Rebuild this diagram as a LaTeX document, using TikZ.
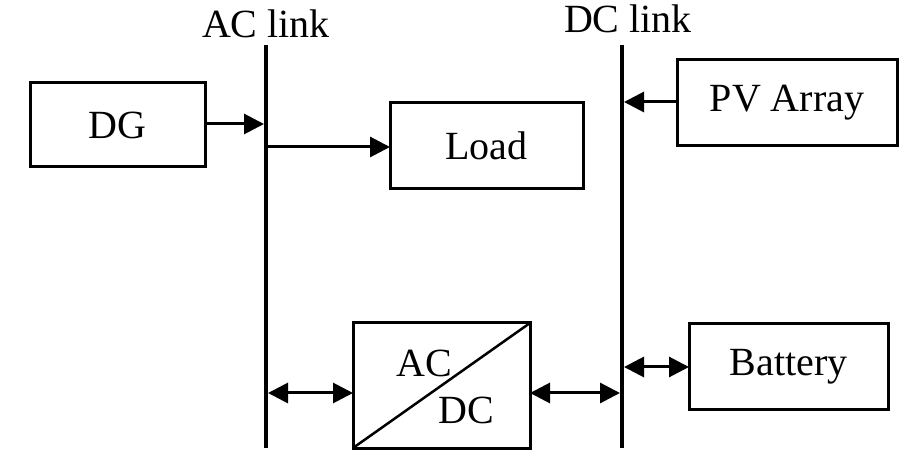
\documentclass[tikz,border=0pt]{standalone}
\usepackage{fontspec}
\setmainfont{Liberation Serif}
\usetikzlibrary{arrows.meta}
\begin{document}
\begin{tikzpicture}[x=1pt,y=-1pt,
  box/.style={draw,line width=3pt,inner sep=0},
  bus/.style={line width=4pt},
  arr/.style={line width=3pt,-{Triangle[length=20pt,width=20pt]}},
  darr/.style={line width=3pt,{Triangle[length=20pt,width=20pt]}-{Triangle[length=20pt,width=20pt]}},
  lbl/.style={font=\fontsize{40}{40}\selectfont}]
\useasboundingbox (0,0) rectangle (919,462);
\coordinate (ac1) at (266,45); \coordinate (ac2) at (266,448);
\coordinate (dc1) at (622,45); \coordinate (dc2) at (622,448);
\draw[bus] (ac1) -- (ac2);
\draw[bus] (dc1) -- (dc2);
\node[lbl] (aclbl) at (266,24) {AC link};
\node[lbl] (dclbl) at (628,19) {DC link};
\draw[box] (30,83) rectangle (205,167); \node[lbl] (dg) at (117.5,125) {DG};
\draw[box] (390,103) rectangle (583,189); \node[lbl] (load) at (486.5,146) {Load};
\draw[box] (677,60) rectangle (897,146); \node[lbl] (pv) at (787,103) {PV Array};
\draw[box] (689,324) rectangle (888,410); \node[lbl] (bat) at (788.5,367) {Battery};
\draw[box] (353,323) rectangle (530,448); \draw[line width=2.5pt] (353,448) -- (530,323);
\node[lbl] (acl) at (424,363) {AC}; \node[lbl] (dcl) at (466,410) {DC};
\draw[arr] (205,124) -- (264,124);
\draw[arr] (268,147) -- (390,147);
\draw[arr] (677,102) -- (624,102);
\draw[darr] (624,367) -- (689,367);
\draw[darr] (268,393) -- (353,393);
\draw[darr] (530,393) -- (620,393);
\end{tikzpicture}
\end{document}
